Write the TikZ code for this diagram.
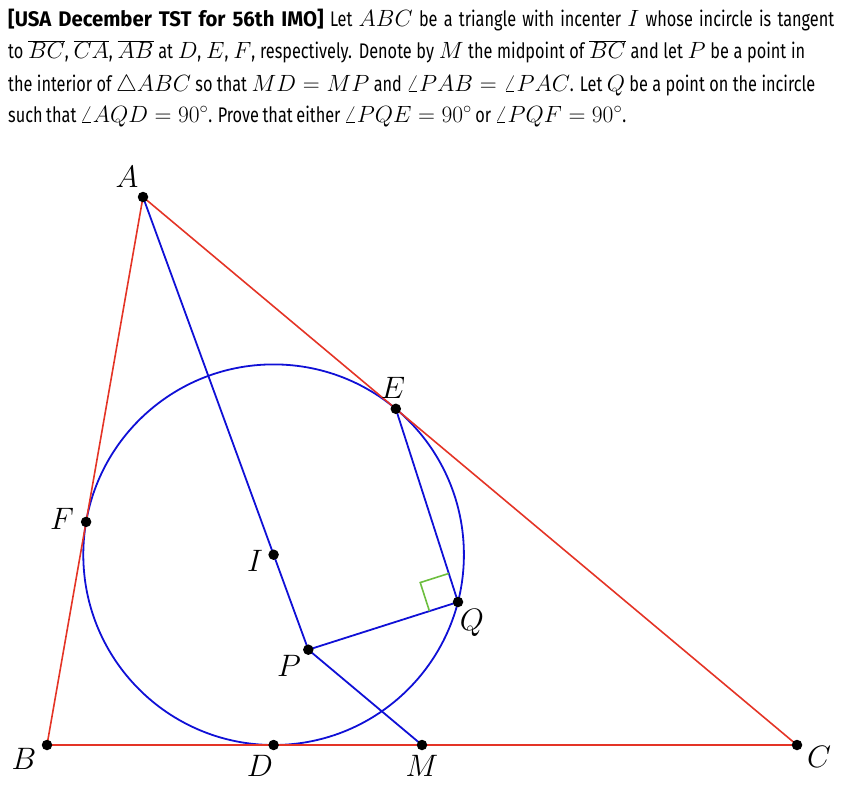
\documentclass[tikz,border=0pt]{standalone}
\usepackage{fix-cm}
\usepackage{fontspec}
\setmainfont{Fira Sans}[Scale=0.9,FakeStretch=0.77,BoldFeatures={FakeStretch=0.96}]
\usetikzlibrary{calc}
\definecolor{myred}{RGB}{228,52,38}
\definecolor{myblue}{RGB}{16,16,214}
\definecolor{mygreen}{RGB}{108,190,62}
\begin{document}
\begin{tikzpicture}[x=1pt,y=-1pt,
  redl/.style={draw=myred,line width=1.6pt},
  bluel/.style={draw=myblue,line width=1.8pt},
  greenl/.style={draw=mygreen,line width=1.6pt},
  dot/.style={circle,fill=black,inner sep=0pt,minimum size=10.5pt},
  lab/.style={font=\fontsize{31}{31}\selectfont,inner sep=0pt},
  txt/.style={anchor=base west,inner sep=0pt,font=\fontsize{23.5}{26}\selectfont}]
\useasboundingbox (0,0) rectangle (845,800);
% text
\node[txt] (t1) at (8,27) {\makebox[826pt][s]{\textbf{[USA December TST for 56th IMO]} Let $ABC$ be a triangle with incenter $I$ whose incircle is tangent}};
\node[txt] (t2) at (8,59) {\makebox[797pt][s]{to $\overline{BC}$, $\overline{CA}$, $\overline{AB}$ at $D$, $E$, $F$, respectively. Denote by $M$ the midpoint of $\overline{BC}$ and let $P$ be a point in}};
\node[txt] (t3) at (8,91) {\makebox[807pt][s]{the interior of $\triangle ABC$ so that $MD=MP$ and $\angle PAB=\angle PAC$. Let $Q$ be a point on the incircle}};
\node[txt] (t4) at (8,122) {\makebox[618pt][s]{such that $\angle AQD=90^\circ$. Prove that either $\angle PQE=90^\circ$ or $\angle PQF=90^\circ$.}};
% points
\coordinate (A) at (143,197);
\coordinate (B) at (47,745);
\coordinate (C) at (797,745);
\coordinate (D) at (273.6,745);
\coordinate (M) at (422,745);
\coordinate (E) at (395.8,408.8);
\coordinate (F) at (86.1,521.9);
\coordinate (I) at (273.6,554.7);
\coordinate (P) at (308.3,649.7);
\coordinate (Q) at (458,602);
% incircle
\draw[bluel] (I) circle[radius=190.3pt];
% triangle
\draw[redl] (A) -- (B) -- (C) -- cycle;
% blue segments
\draw[bluel] (A) -- (P);
\draw[bluel] (P) -- (M);
\draw[bluel] (P) -- (Q);
\draw[bluel] (E) -- (Q);
% right angle
\coordinate (R1) at ($(Q)!30pt!(E)$);
\coordinate (R2) at ($(Q)!30pt!(P)$);
\draw[greenl] (R1) -- ($(R1)+(R2)-(Q)$) -- (R2);
% dots
\foreach \p in {A,B,C,D,M,E,F,I,P,Q} \node[dot] (d\p) at (\p) {};
% labels
\node[lab] (lA) at (127,177) {$A$};
\node[lab] (lB) at (24,759) {$B$};
\node[lab] (lC) at (819,757) {$C$};
\node[lab] (lD) at (260,766) {$D$};
\node[lab] (lM) at (422,766) {$M$};
\node[lab] (lE) at (393,388) {$E$};
\node[lab] (lF) at (62,519) {$F$};
\node[lab] (lI) at (255,561) {$I$};
\node[lab] (lP) at (289,666) {$P$};
\node[lab] (lQ) at (472,623) {$Q$};
\end{tikzpicture}
\end{document}
